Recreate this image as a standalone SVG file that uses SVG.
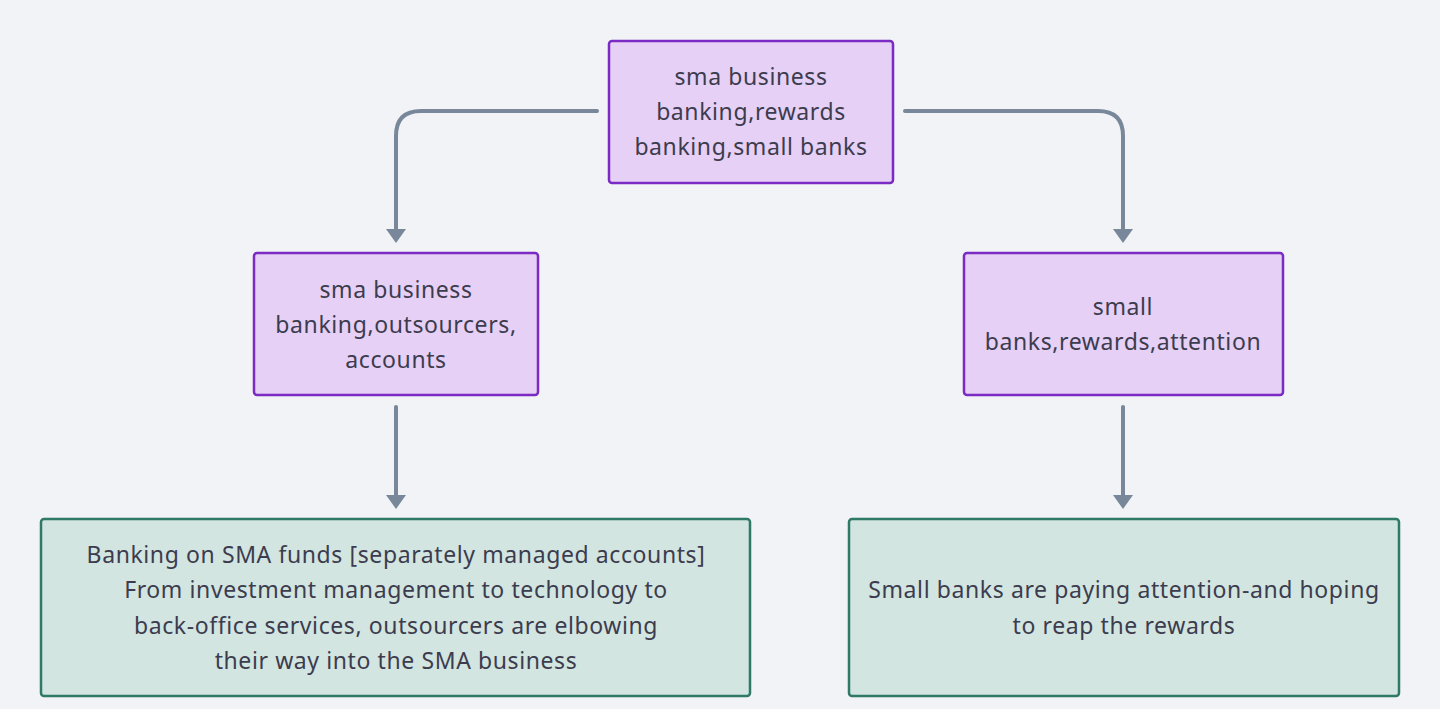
<svg xmlns="http://www.w3.org/2000/svg" width="1440" height="709" viewBox="0 0 1440 709">
<defs>
<style>
.p{fill:#e6d0f6;stroke:#7b2bc4;stroke-width:2.5}
.g{fill:#d2e5e1;stroke:#2f7a66;stroke-width:2.5}
.t{font-family:"Noto Sans","DejaVu Sans",sans-serif;font-size:23px;letter-spacing:0.6px;fill:#3c3c4e;text-anchor:middle}
.c{fill:none;stroke:#79879a;stroke-width:4;stroke-linecap:round}
.a{fill:#79879a}
</style>
</defs>
<rect width="1440" height="709" fill="#f1f3f6"/>
<g id="connectors">
<path class="c" d="M597,111 H421 Q396,111 396,136 V232"/>
<path class="a" d="M386,229 L406,229 L396,243 Z"/>
<path class="c" d="M905,111 H1098 Q1123,111 1123,136 V232"/>
<path class="a" d="M1113,229 L1133,229 L1123,243 Z"/>
<path class="c" d="M396,407 V498"/>
<path class="a" d="M386,495 L406,495 L396,509 Z"/>
<path class="c" d="M1123,407 V498"/>
<path class="a" d="M1113,495 L1133,495 L1123,509 Z"/>
</g>
<g id="top">
<rect class="p" x="609" y="41" width="284" height="142" rx="3"/>
<text class="t" x="751" y="85">sma business</text>
<text class="t" x="751" y="120">banking,rewards</text>
<text class="t" x="751" y="155">banking,small banks</text>
</g>
<g id="midleft">
<rect class="p" x="254" y="253" width="284" height="142" rx="3"/>
<text class="t" x="396" y="298">sma business</text>
<text class="t" x="396" y="333">banking,outsourcers,</text>
<text class="t" x="396" y="368">accounts</text>
</g>
<g id="midright">
<rect class="p" x="964" y="253" width="319" height="142" rx="3"/>
<text class="t" x="1123" y="315">small</text>
<text class="t" x="1123" y="350">banks,rewards,attention</text>
</g>
<g id="botleft">
<rect class="g" x="41" y="519" width="709" height="177" rx="3"/>
<text class="t" x="396" y="563">Banking on SMA funds [separately managed accounts]</text>
<text class="t" x="396" y="598">From investment management to technology to</text>
<text class="t" x="396" y="634">back-office services, outsourcers are elbowing</text>
<text class="t" x="396" y="669">their way into the SMA business</text>
</g>
<g id="botright">
<rect class="g" x="849" y="519" width="550" height="177" rx="3"/>
<text class="t" x="1124" y="598">Small banks are paying attention-and hoping</text>
<text class="t" x="1124" y="634">to reap the rewards</text>
</g>
</svg>
